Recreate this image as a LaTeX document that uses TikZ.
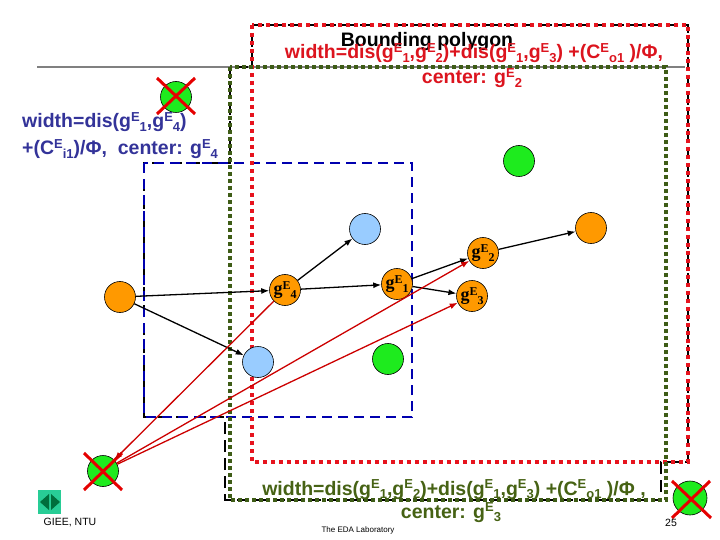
\documentclass[tikz,border=0pt]{standalone}
\usepackage{fontspec}
\setmainfont{Liberation Sans}
\newfontfamily\serifb{Liberation Serif}
\usetikzlibrary{arrows.meta,calc}
\definecolor{orng}{RGB}{255,153,0}
\definecolor{grn}{RGB}{30,235,30}
\definecolor{lblue}{RGB}{153,204,255}
\definecolor{redt}{RGB}{220,20,30}
\definecolor{bluet}{RGB}{51,51,153}
\definecolor{greent}{RGB}{70,98,20}
\definecolor{reddot}{RGB}{230,20,30}
\definecolor{greendot}{RGB}{62,92,22}
\definecolor{bluedash}{RGB}{0,0,175}
\definecolor{navbg}{RGB}{40,205,150}
\definecolor{navtri}{RGB}{0,110,60}
% sup/sub for the main texts
\newcommand{\Sup}[1]{\raisebox{6.5pt}{\fontsize{13}{13}\selectfont #1}}
\newcommand{\Sub}[1]{\raisebox{-3.5pt}{\fontsize{13}{13}\selectfont #1}}
\newcommand{\gEs}[1]{g\Sup{E}\Sub{#1}}
% node labels
\newcommand{\gEn}[1]{{\serifb\bfseries\fontsize{18}{18}\selectfont g\raisebox{5pt}{\fontsize{12}{12}\selectfont E}\raisebox{-4pt}{\fontsize{12}{12}\selectfont #1}}}
\tikzset{
  dot/.style={circle, draw=black, line width=0.6pt, minimum size=31pt, inner sep=0pt},
  og/.style={dot, fill=orng},
  gr/.style={dot, fill=grn},
  lb/.style={dot, fill=lblue},
  blk/.style={-{Latex[length=8pt,width=6pt]}, line width=1.3pt, black},
  rd/.style={-{Latex[length=8pt,width=6pt]}, line width=1.3pt, red!80!black},
  xmark/.style={line width=3pt, red!90!black},
  txt/.style={inner sep=0pt, anchor=base, font=\bfseries\fontsize{19.5}{22}\selectfont}
}
\begin{document}
\begin{tikzpicture}[x=1pt,y=-1pt]
\useasboundingbox (0,0) rectangle (720,540);
% title underline
\draw[gray, line width=1.5pt] (37,67) -- (685,67);
% bounding polygon (black dashed)
\draw[black, line width=2.5pt, dash pattern=on 12pt off 6pt]
  (252,25) -- (688,25) -- (688,462) -- (661,462) -- (661,500) -- (225,500)
  -- (225,417) -- (144,417) -- (144,163) -- (230,163) -- (230,67) -- (252,67) -- cycle;
% blue dashed rectangle
\draw[bluedash, line width=2.5pt, dash pattern=on 10pt off 6pt] (144,163) rectangle (412,417);
% red dotted rectangle
\draw[reddot, line width=4pt, dash pattern=on 4pt off 4pt] (252,25) rectangle (688,462);
% green dotted rectangle
\draw[greendot, line width=4.5pt, dash pattern=on 4pt off 3pt] (230,67) rectangle (666,500);

% nodes
\node[gr] (gtop) at (176,97) {};
\node[gr] (gtr) at (519,161) {};
\node[lb] (lbtop) at (365,229) {};
\node[og] (oleft) at (120,297) {};
\node[og] (g4) at (285,290) {\gEn{4}};
\node[og] (g1) at (397,284) {\gEn{1}};
\node[og] (g2) at (483,253) {\gEn{2}};
\node[og] (g3) at (472,296) {\gEn{3}};
\node[og] (oright) at (591,228) {};
\node[lb] (lbbot) at (258,362) {};
\node[gr] (gmid) at (388,359) {};
\node[gr] (gbl) at (103,471) {};
\node[gr, minimum width=32pt, minimum height=34pt] (gbr) at (690,498) {};

% X marks
\draw[xmark] ($(gtop)+(-19,-19)$) -- ($(gtop)+(19,17)$);
\draw[xmark] ($(gtop)+(19,-19)$) -- ($(gtop)+(-19,17)$);
\draw[xmark] ($(gbl)+(-19,-18)$) -- ($(gbl)+(19,19)$);
\draw[xmark] ($(gbl)+(19,-18)$) -- ($(gbl)+(-19,19)$);
\draw[xmark] ($(gbr)+(-18,-17)$) -- ($(gbr)+(21,20)$);
\draw[xmark] ($(gbr)+(20,-17)$) -- ($(gbr)+(-18,20)$);

% black arrows
\draw[blk] (oleft) -- (g4);
\draw[blk] (oleft) -- (lbbot);
\draw[blk] (g4) -- (lbtop);
\draw[blk] (g4) -- (g1);
\draw[blk] (g1) -- (g2);
\draw[blk] (g1) -- (g3);
\draw[blk] (g2) -- (oright);

% red arrows
\draw[rd] (g4) -- (gbl);
\draw[rd] (gbl) -- (g2);
\draw[rd] (gbl) -- (g3);

% texts
\node[txt, black] (tbp) at (427,47) {Bounding polygon};
\node[txt, redt] (tr1) at (474,59) {width=dis(\gEs{1},\gEs{2})+dis(\gEs{1},\gEs{3}) +(C\Sup{E}\Sub{o1} )/Φ,};
\node[txt, redt] (tr2) at (472,84) {center: \gEs{2}};
\node[txt, bluet, anchor=base west] (tb1) at (22,128) {width=dis(\gEs{1},\gEs{4})};
\node[txt, bluet, anchor=base west] (tb2) at (22,155) {+(C\Sup{E}\Sub{i1})/Φ,\ \ center: \gEs{4}};
\node[txt, greent] (tg1) at (454,495) {width=dis(\gEs{1},\gEs{2})+dis(\gEs{1},\gEs{3}) +(C\Sup{E}\Sub{o1} )/Φ ,};
\node[txt, greent] (tg2) at (451,518) {center: \gEs{3}};

% footer
\node[draw=none, fill=navbg, minimum width=23pt, minimum height=24pt, inner sep=0pt] (nav) at (49.5,502) {};
\fill[navtri] (40,502) -- (49,494) -- (49,510) -- cycle;
\fill[navtri] (51,494) -- (60,502) -- (51,510) -- cycle;
\node[inner sep=0pt, font=\fontsize{10.5}{12}\selectfont] (giee) at (70,523) {GIEE, NTU};
\node[inner sep=0pt, font=\fontsize{8}{10}\selectfont] (eda) at (358,530) {The EDA Laboratory};
\node[inner sep=0pt, font=\fontsize{10.5}{12}\selectfont] (pg) at (671,523) {25};
\end{tikzpicture}
\end{document}
